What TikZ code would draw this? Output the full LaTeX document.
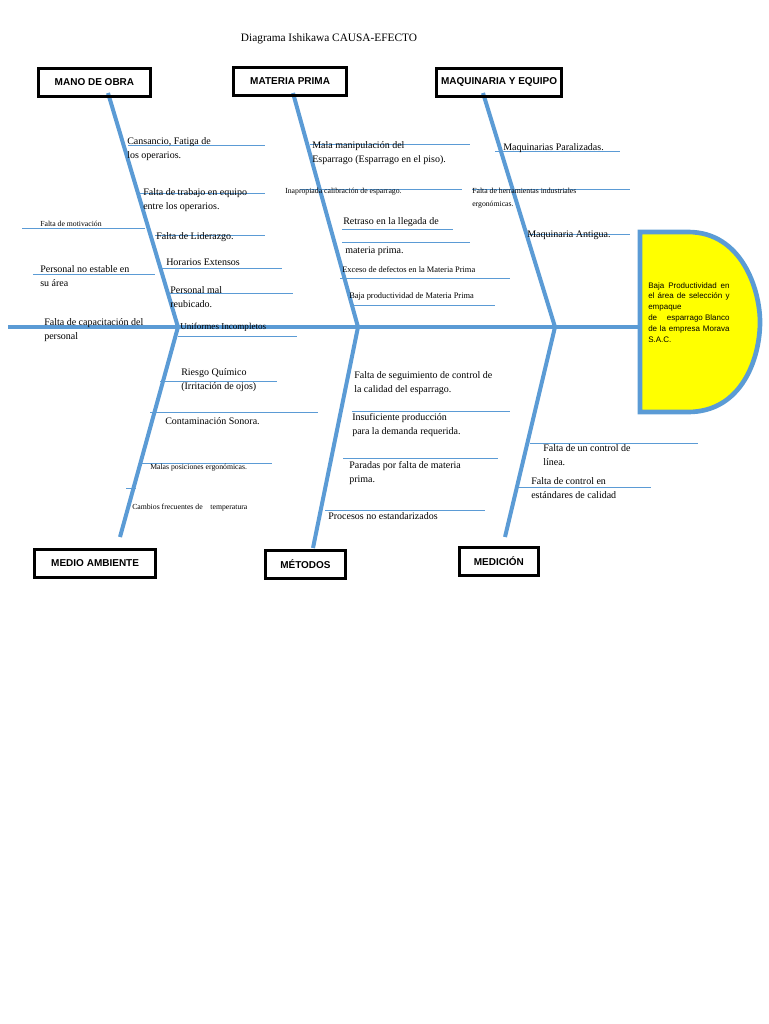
\documentclass[tikz,border=0pt]{standalone}
\usepackage{fontspec}
\setmainfont{Liberation Serif}
\newfontfamily\arialf{Liberation Sans}
\begin{document}
\begin{tikzpicture}[x=0.75pt,y=-0.75pt,
  bone/.style={draw=boneblue,line width=3pt},
  twig/.style={draw=boneblue,line width=0.6pt},
  cat/.style={draw=black,line width=2.2pt,minimum height=21pt,font=\arialf\bfseries\fontsize{7.5}{9}\selectfont,anchor=north west,inner sep=0pt},
  lab/.style={anchor=west,align=left,inner sep=0pt,font=\fontsize{7.5}{10.5}\selectfont},
  slab/.style={anchor=west,align=left,inner sep=0pt,font=\fontsize{5.8}{9.5}\selectfont}]
\definecolor{boneblue}{RGB}{91,155,213}
\definecolor{effyellow}{RGB}{255,255,0}
\useasboundingbox (0,0) rectangle (768,1024);
\node[font=\fontsize{8.5}{10}\selectfont] (title) at (329,39) {Diagrama Ishikawa CAUSA-EFECTO};
% spine and bones
\draw[bone] (8,327) -- (640,327);
\draw[bone] (108,93) -- (178,327) -- (120,537);
\draw[bone] (293,93) -- (358,327) -- (313,548);
\draw[bone] (483,93) -- (555,327) -- (505,537);
% category boxes
\node[cat,minimum width=84pt] (mo) at (37,67) {MANO DE OBRA};
\node[cat,minimum width=85pt] (mp) at (232,66) {MATERIA PRIMA};
\node[cat,minimum width=94pt] (mq) at (435,67) {MAQUINARIA Y EQUIPO};
\node[cat,minimum width=91pt] (ma) at (33,548) {MEDIO AMBIENTE};
\node[cat,minimum width=60pt] (me) at (264,549) {MÉTODOS};
\node[cat,minimum width=59pt] (md) at (458,546) {MEDICIÓN};
% effect
\draw[draw=boneblue,line width=3.5pt,fill=effyellow] (640,232) -- (688,232) .. controls (742,232) and (760,290) .. (760,322) .. controls (760,358) and (742,412) .. (688,412) -- (640,412) -- cycle;
\node[anchor=north west,inner sep=0pt,text width=61pt,align=justify,font=\arialf\fontsize{6}{8.2}\selectfont] (eff) at (648,282) {Baja Productividad en el área de selección y empaque\\de\hfill esparrago Blanco de la empresa Morava S.A.C.};
% twigs
\draw[twig] (128,145) -- (265,145);
\draw[twig] (140,193) -- (265,193);
\draw[twig] (22,228) -- (145,228);
\draw[twig] (155,235) -- (265,235);
\draw[twig] (160,268) -- (282,268);
\draw[twig] (33,274) -- (155,274);
\draw[twig] (170,293) -- (293,293);
\draw[twig] (178,336) -- (297,336);
\draw[twig] (310,144) -- (470,144);
\draw[twig] (300,189) -- (462,189);
\draw[twig] (342,229) -- (453,229);
\draw[twig] (342,242) -- (470,242);
\draw[twig] (340,278) -- (510,278);
\draw[twig] (350,305) -- (495,305);
\draw[twig] (495,151) -- (620,151);
\draw[twig] (472,189) -- (630,189);
\draw[twig] (525,234) -- (630,234);
\draw[twig] (160,381) -- (277,381);
\draw[twig] (150,412) -- (318,412);
\draw[twig] (140,463) -- (272,463);
\draw[twig] (126,488) -- (136,488);
\draw[twig] (352,411) -- (510,411);
\draw[twig] (343,458) -- (498,458);
\draw[twig] (325,510) -- (485,510);
\draw[twig] (530,443) -- (698,443);
\draw[twig] (518,487) -- (651,487);
% labels
\node[lab] (t1) at (127,149) {Cansancio, Fatiga de\\los operarios.};
\node[lab] (t2) at (143,200) {Falta de trabajo en equipo\\entre los operarios.};
\node[slab] (t3) at (40,224) {Falta de motivación};
\node[lab] (t4) at (156,237) {Falta de Liderazgo.};
\node[lab] (t5) at (166,262) {Horarios Extensos};
\node[lab] (t6) at (40,276) {Personal no estable en\\su área};
\node[lab] (t7) at (170,297) {Personal mal\\reubicado.};
\node[lab] (t8) at (44,330) {Falta de capacitación del\\personal};
\node[slab,font=\fontsize{6.8}{9}\selectfont] (t9) at (180,327) {Uniformes Incompletos};
\node[lab] (m1) at (312,153) {Mala manipulación del\\Esparrago (Esparrago en el piso).};
\node[slab] (m2) at (285,192) {Inapropiada calibración de esparrago.};
\node[lab] (m3) at (343,222) {Retraso en la llegada de};
\node[lab] (m4) at (345,251) {materia prima.};
\node[slab,font=\fontsize{6.3}{9}\selectfont] (m5) at (342,270) {Exceso de defectos en la Materia Prima};
\node[slab,font=\fontsize{6.3}{9}\selectfont] (m6) at (349,296) {Baja productividad de Materia Prima};
\node[lab] (q1) at (503,148) {Maquinarias Paralizadas.};
\node[slab] (q2) at (472,198) {Falta de herramientas industriales\\ergonómicas.};
\node[lab] (q3) at (527,235) {Maquinaria Antigua.};
\node[lab] (a1) at (181,380) {Riesgo Químico\\(Irritación de ojos)};
\node[lab] (a2) at (165,421) {Contaminación Sonora.};
\node[slab] (a3) at (150,468) {Malas posiciones ergonómicas.};
\node[slab] (a4) at (132,508) {Cambios frecuentes de\quad temperatura};
\node[lab] (e1) at (354,383) {Falta de seguimiento de control de\\la calidad del esparrago.};
\node[lab] (e2) at (352,425) {Insuficiente producción\\para la demanda requerida.};
\node[lab] (e3) at (349,473) {Paradas por falta de materia\\prima.};
\node[lab] (e4) at (328,516) {Procesos no estandarizados};
\node[lab] (d1) at (543,455) {Falta de un control de\\línea.};
\node[lab] (d2) at (531,488) {Falta de control en\\estándares de calidad};
\end{tikzpicture}
\end{document}
